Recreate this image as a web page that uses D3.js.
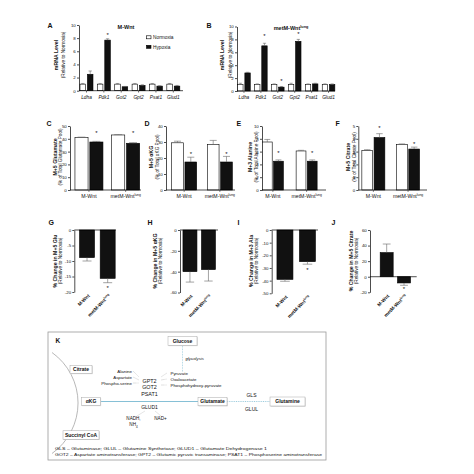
<!DOCTYPE html>
<html><head><meta charset="utf-8">
<script src="https://cdn.jsdelivr.net/npm/d3@7"></script>
<style>body{margin:0;background:#fff}svg{display:block}text{font-family:"Liberation Sans",Arial,sans-serif;fill:#111}</style>
</head><body><svg id="c" width="474" height="474"></svg>
<script>
// ---------- DATA ----------
const genes = ["Ldha","Pdk1","Got2","Gpt2","Psat1","Glud1"];
const seriesNames = ["Normoxia","Hypoxia"];
const aNormoxia = [1,1,1,1,1,1];
const aHypoxia = [2.5,7.7,0.6,0.8,0.7,0.7];
const aNormErr = [0.1,0.1,0.1,0.1,0.1,0.1];
const aHypErr = [0.5,0.2,0.05,0.1,0.05,0.1];
const aStars = [null,8.6,null,null,null,null];
const bNormoxia = [1,1,1,1,1,1];
const bHypoxia = [2.8,7.0,0.6,7.7,1.1,1.0];
const bNormErr = [0.2,0.1,0.1,0.2,0.1,0.1];
const bHypErr = [0.1,0.4,0.1,0.3,0.1,0.1];
const bStars = [null,8.6,1.6,8.9,null,null];
const groups = ["M-Wnt","metM-Wnt"];
const mrnaTicks = [0,2,4,6,8,10];
const cNorm = [41,43], cHyp = [37.5,36.5], cNormErr = [0.3,0.3], cHypErr = [0.5,0.5], cStars = [45,45];
const cTicks = [0,10,20,30,40,50];
const dNorm = [29.5,28.5], dHyp = [17.5,17.5], dNormErr = [1,2.5], dHypErr = [3,3.5], dStars = [23,23];
const dTicks = [0,10,20,30,40];
const eNorm = [7.5,6.1], eHyp = [4.5,4.5], eNormErr = [0.4,0.1], eHypErr = [0.2,0.2], eStars = [5.8,5.8];
const eTicks = [0,2,4,6,8,10];
const fNorm = [3.1,3.55], fHyp = [4.1,3.2], fNormErr = [0.05,0.05], fHypErr = [0.3,0.15], fStars = [4.9,3.65];
const fTicks = [0,1,2,3,4,5];
const gVals = [-8.9,-15.6], gErr = [1.1,1.4], gStars = [null,-18.4];
const gTicks = [0,-5,-10,-15,-20];
const hVals = [-40,-38], hErr = [10,11], hStars = [null,null];
const hTicks = [0,-20,-40,-60];
const iVals = [-39,-25], iErr = [1.5,2], iStars = [null,-31.5];
const iTicks = [0,-10,-20,-30,-40,-50];
const jVals = [31,-8], jErr = [11,3], jStars = [null,-14.5];
const jTicks = [-20,0,20,40,60];

// ---------- DRAW ----------
const svg = d3.select("#c");
const BLACK = "#111", ERR = "#666";

function catLabel(sel, name, opts){
  // name with superscript "lung" for metM
  const t = sel.append("text").attr("font-size", opts.fs).attr("font-weight", opts.fw||"normal");
  if (opts.italic) t.attr("font-style","italic");
  t.append("tspan").text(name);
  if (name.startsWith("metM")) t.append("tspan").attr("baseline-shift","super").attr("font-size", opts.fs*0.65).text("lung");
  return t;
}

function panel(cfg){
  const g = svg.append("g");
  const y = d3.scaleLinear().domain(cfg.domain).range([cfg.yBot, cfg.yTop]);
  const x = d3.scaleBand().domain(cfg.cats).range(cfg.xr);
  const n = cfg.series.length;
  const xi = d3.scaleBand().domain(d3.range(n)).range([-cfg.halfW, cfg.halfW]).paddingInner(n>1?cfg.gap:0);
  const cx = c => x(c) + x.bandwidth()/2;
  // y axis
  const ax = g.append("g").attr("transform",`translate(${cfg.axisX},0)`)
    .call(d3.axisLeft(y).tickValues(cfg.ticks).tickSize(2).tickSizeOuter(0).tickPadding(1.2).tickFormat(d=>String(d)));
  ax.selectAll("text").attr("font-size",4.4).style("font-family","Liberation Sans, Arial");
  ax.selectAll("path,line").attr("stroke","#000").attr("stroke-width",0.7);
  // bars
  cfg.series.forEach((s,si)=>{
    cfg.cats.forEach((c,ci)=>{
      const v = s.vals[ci];
      const bx = cx(c) + xi(si);
      const y0 = y(0), y1 = y(v);
      g.append("rect").attr("x",bx).attr("width",xi.bandwidth())
        .attr("y",Math.min(y0,y1)).attr("height",Math.abs(y1-y0))
        .attr("fill",s.fill).attr("stroke","#000").attr("stroke-width",0.6);
      const e = s.errs[ci];
      const ye = y(v + (v>=0?e:-e));
      const mx = bx + xi.bandwidth()/2;
      g.append("line").attr("x1",mx).attr("x2",mx).attr("y1",y1).attr("y2",ye).attr("stroke",ERR).attr("stroke-width",0.6);
      g.append("line").attr("x1",mx-xi.bandwidth()*0.3).attr("x2",mx+xi.bandwidth()*0.3).attr("y1",ye).attr("y2",ye).attr("stroke",ERR).attr("stroke-width",0.6);
      if (s.stars && s.stars[ci]!=null){
        g.append("text").attr("x",mx).attr("y",y(s.stars[ci])+2.6).attr("text-anchor","middle").attr("font-size",6).text("*");
      }
    });
  });
  // x axis line (at zero)
  g.append("line").attr("x1",cfg.axisX).attr("x2",cfg.xEnd).attr("y1",y(0)).attr("y2",y(0)).attr("stroke","#000").attr("stroke-width",0.7);
  // category labels
  cfg.cats.forEach(c=>{
    if (cfg.rotated){
      const t = catLabel(g, c, {fs:4.8, fw:"bold"});
      t.attr("text-anchor","end").attr("transform",`translate(${cx(c)+3},${cfg.yBot+4}) rotate(-45)`);
    } else {
      g.append("line").attr("x1",cx(c)).attr("x2",cx(c)).attr("y1",y(0)).attr("y2",y(0)+1.8).attr("stroke","#000").attr("stroke-width",0.6);
      const t = catLabel(g, c, {fs:cfg.catFs||5.2, italic:cfg.italic});
      t.attr("text-anchor","middle").attr("x",cx(c)).attr("y",y(0)+(cfg.catDy||8));
    }
  });
  // y label
  const lab = cfg.ylab;
  [0,1].forEach(k=>{
    g.append("text").attr("transform",`translate(${lab.x[k]+1.7},${lab.cy}) rotate(-90)`)
      .attr("text-anchor","middle").attr("font-size",k?4.7:5.2).attr("font-weight",k?"normal":"bold")
      .attr("fill",k?"#444":"#111").text(lab.t[k]);
  });
  // letter
  svg.append("text").attr("x",cfg.letter[1]-2.5).attr("y",cfg.letter[2]+2.6).attr("font-size",7).attr("font-weight","bold").text(cfg.letter[0]);
  return g;
}

const wFill = "#fff", kFill = BLACK;
panel({cats:genes, series:[{vals:aNormoxia,errs:aNormErr,fill:wFill},{vals:aHypoxia,errs:aHypErr,fill:kFill,stars:aStars}],
  xr:[77.8,182], halfW:6.5, gap:0.25, axisX:79, xEnd:183, yTop:25, yBot:90.7, domain:[0,10], ticks:mrnaTicks, italic:true, catFs:4.8,
  ylab:{x:[56,63.5], cy:55, t:["mRNA Level","(Relative to Normoxia)"]}, letter:["A",50,25]});
panel({cats:genes, series:[{vals:bNormoxia,errs:bNormErr,fill:wFill},{vals:bHypoxia,errs:bHypErr,fill:kFill,stars:bStars}],
  xr:[235.5,337], halfW:6.3, gap:0.25, axisX:237, xEnd:335, yTop:26.5, yBot:91, domain:[0,10], ticks:mrnaTicks, italic:true, catFs:4.8,
  ylab:{x:[222.7,230.5], cy:55, t:["mRNA Level","(Relative to Normoxia)"]}, letter:["B",209,25]});
// titles and legend
svg.append("text").attr("x",126).attr("y",29).attr("text-anchor","middle").attr("font-size",5.5).attr("font-weight","bold").text("M-Wnt");
{
  const t = svg.append("text").attr("x",291).attr("y",29.5).attr("text-anchor","middle").attr("font-size",5.5).attr("font-weight","bold");
  t.append("tspan").text("metM-Wnt"); t.append("tspan").attr("baseline-shift","super").attr("font-size",3.8).text("lung");
}
seriesNames.forEach((s,i)=>{
  svg.append("rect").attr("x",146.5).attr("y",35.8+i*9.5).attr("width",4.5).attr("height",3).attr("fill",i?kFill:wFill).attr("stroke","#000").attr("stroke-width",0.6);
  svg.append("text").attr("x",153).attr("y",39.2+i*9.5).attr("font-size",4.8).attr("fill","#333").text(s);
});

panel({cats:groups, series:[{vals:cNorm,errs:cNormErr,fill:wFill},{vals:cHyp,errs:cHypErr,fill:kFill,stars:cStars}],
  xr:[70.6,144], halfW:14, gap:0.12, axisX:70, xEnd:141, yTop:126, yBot:190, domain:[0,50], ticks:cTicks,
  ylab:{x:[55,60.7], cy:157, t:["M+5 Glutamate","(% of Total Glutamate Pool)"]}, letter:["C",49,123]});
panel({cats:groups, series:[{vals:dNorm,errs:dNormErr,fill:wFill},{vals:dHyp,errs:dHypErr,fill:kFill,stars:dStars}],
  xr:[166.3,237.7], halfW:12.5, gap:0.12, axisX:166, xEnd:235, yTop:126, yBot:190, domain:[0,40], ticks:dTicks,
  ylab:{x:[151.7,156.9], cy:157, t:["M+5 αKG","(% of Total αKG Pool)"]}, letter:["D",147,123]});
panel({cats:groups, series:[{vals:eNorm,errs:eNormErr,fill:wFill},{vals:eHyp,errs:eHypErr,fill:kFill,stars:eStars}],
  xr:[256,323.5], halfW:10.5, gap:0.12, axisX:262, xEnd:326, yTop:126, yBot:190, domain:[0,10], ticks:eTicks,
  ylab:{x:[250,256], cy:157, t:["M+3 Alanine","(% of Total Alanine Pool)"]}, letter:["E",239,123]});
panel({cats:groups, series:[{vals:fNorm,errs:fNormErr,fill:wFill},{vals:fHyp,errs:fHypErr,fill:kFill,stars:fStars}],
  xr:[356,425.4], halfW:11.5, gap:0.12, axisX:358.3, xEnd:427, yTop:126, yBot:190, domain:[0,5], ticks:fTicks,
  ylab:{x:[348.3,354], cy:157, t:["M+5 Citrate","(% of Total Citrate Pool)"]}, letter:["F",338,123]});

panel({cats:groups, series:[{vals:gVals,errs:gErr,fill:kFill,stars:gStars}], rotated:true,
  xr:[76.7,118], halfW:7.5, axisX:74.3, xEnd:116, yTop:230, yBot:292, domain:[-20,0], ticks:gTicks,
  ylab:{x:[55,60.5], cy:261, t:["% Change in M+5 Glu","(Relative to Normoxia)"]}, letter:["G",51,222]});
panel({cats:groups, series:[{vals:hVals,errs:hErr,fill:kFill,stars:hStars}], rotated:true,
  xr:[180.7,217.7], halfW:7, axisX:180, xEnd:218, yTop:230, yBot:292.5, domain:[-60,0], ticks:hTicks,
  ylab:{x:[155,160], cy:261, t:["% Change in M+5 αKG","(Relative to Normoxia)"]}, letter:["H",150,222]});
panel({cats:groups, series:[{vals:iVals,errs:iErr,fill:kFill,stars:iStars}], rotated:true,
  xr:[273.7,318.7], halfW:8, axisX:271.7, xEnd:318, yTop:230, yBot:293.3, domain:[-50,0], ticks:iTicks,
  ylab:{x:[251.7,256.7], cy:261, t:["% Change in M+3 Ala","(Relative to Normoxia)"]}, letter:["I",240,222]});
panel({cats:groups, series:[{vals:jVals,errs:jErr,fill:kFill,stars:jStars}], rotated:true,
  xr:[378,412.7], halfW:6.5, axisX:370, xEnd:416.7, yTop:230, yBot:292.3, domain:[-20,60], ticks:jTicks,
  ylab:{x:[351.7,356.7], cy:261, t:["% Change in M+5 Citrate","(Relative to Normoxia)"]}, letter:["J",334,222]});

// ---------- PANEL K (pathway diagram) ----------
const BLUE = "#86c0d6";
const k = svg.append("g");
k.append("rect").attr("x",48).attr("y",332).attr("width",278).attr("height",128).attr("fill","none").attr("stroke","#999").attr("stroke-width",0.8);
k.append("text").attr("x",55.5).attr("y",342.5).attr("font-size",6.5).attr("font-weight","bold").text("K");
// TCA arc
k.append("path").attr("d","M 52,352.5 A 62 62 0 0 1 52,453.5").attr("fill","none").attr("stroke","#9a9a9a").attr("stroke-width",0.7);
// lines
k.append("line").attr("x1",101).attr("x2",198).attr("y1",401.5).attr("y2",401.5).attr("stroke",BLUE).attr("stroke-width",1);
k.append("line").attr("x1",227).attr("x2",270).attr("y1",401.5).attr("y2",401.5).attr("stroke",BLUE).attr("stroke-width",0.8).attr("stroke-dasharray","1,0.8");
k.append("line").attr("x1",182.5).attr("x2",182.5).attr("y1",346).attr("y2",372).attr("stroke",BLUE).attr("stroke-width",0.7).attr("stroke-dasharray","0.8,0.8");
const dotted = (x1,y1,x2,y2)=>k.append("line").attr("x1",x1).attr("y1",y1).attr("x2",x2).attr("y2",y2).attr("stroke","#999").attr("stroke-width",0.5).attr("stroke-dasharray","0.6,0.6");
dotted(133,371,139,377); dotted(133,377,139,380); dotted(133,383,139,383);
dotted(161,377,167,373); dotted(161,380,167,379); dotted(161,385,167,385);
dotted(145,411,137,416); dotted(155,411,161,416);
// boxes
const boxes = [["Glucose",182.5,341,29,9],["Citrate",81,369.5,22,8],["αKG",91,401.5,19,8],
  ["Glutamate",212.5,401.5,29,8.5],["Glutamine",287.5,401.5,35,9],["Succinyl CoA",81,435,36,8.5]];
boxes.forEach(([t,x,y,w,h])=>{
  k.append("rect").attr("x",x-w/2+0.6).attr("y",y-h/2+0.6).attr("width",w).attr("height",h).attr("fill","#ccc");
  k.append("rect").attr("x",x-w/2).attr("y",y-h/2).attr("width",w).attr("height",h).attr("fill","#fff").attr("stroke","#aaa").attr("stroke-width",0.5);
  k.append("text").attr("x",x).attr("y",y+1.8).attr("text-anchor","middle").attr("font-size",5).attr("font-weight","bold").attr("fill","#222").text(t);
});
const txt = (t,x,y,fs,anchor,opt={})=>{const e=k.append("text").attr("x",x).attr("y",y).attr("font-size",fs).attr("text-anchor",anchor).attr("fill",opt.fill||"#333").text(t); if(opt.italic) e.attr("font-style","italic"); return e;};
txt("glycolysis",185.5,359.5,4.3,"start",{italic:true});
txt("Alanine",132,373,4.4,"end"); txt("Aspartate",132,378.8,4.4,"end"); txt("Phospho-serine",132,384.6,4.4,"end");
txt("GPT2",149.5,382.6,5.4,"middle",{fill:"#222"}); txt("GOT2",149.5,389.2,5.4,"middle",{fill:"#222"}); txt("PSAT1",149.5,395.8,5.4,"middle",{fill:"#222"});
txt("Pyruvate",170.5,375,4.4,"start"); txt("Oxaloacetate",170.5,380.8,4.4,"start"); txt("Phosphohydroxy-pyruvate",170.5,386.8,4.4,"start");
txt("GLUD1",149.5,408.6,5,"middle");
txt("NADH,",133.5,420.3,4.6,"middle");
{ const e = txt("NH",133.5,426.3,4.6,"middle"); e.append("tspan").attr("baseline-shift","sub").attr("font-size",3).text("4"); }
txt("NAD+",160.5,420.3,4.6,"middle");
txt("GLS",251.5,397.2,5,"middle"); txt("GLUL",251.5,411.2,5,"middle");
txt("GLS – Glutaminase; GLUL – Glutamine Synthetase; GLUD1 – Glutamate Dehydrogenase 1",55,449.8,4.3,"start").attr("textLength",212).attr("lengthAdjust","spacingAndGlyphs");
txt("GOT2 – Aspartate aminotransferase; GPT2 – Glutamic pyruvic transaminase; PSAT1 – Phosphoserine aminotransferase",55,455.8,4.3,"start").attr("textLength",267).attr("lengthAdjust","spacingAndGlyphs");
</script></body></html>
